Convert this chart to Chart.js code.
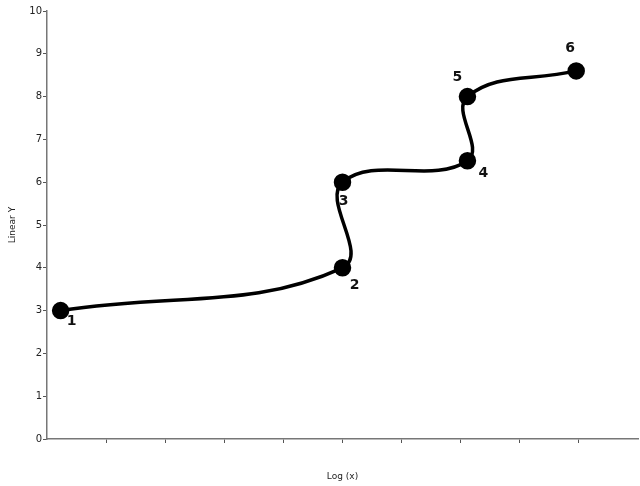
<!DOCTYPE html>
<html>
<head>
<meta charset="utf-8">
<script src="https://cdn.jsdelivr.net/npm/chart.js@4/dist/chart.umd.min.js"></script>
<style>
  html, body { margin: 0; padding: 0; background: #fff; }
  #wrap { width: 640px; height: 486px; }
</style>
</head>
<body>
<div id="wrap"><canvas id="chart"></canvas></div>
<script>
// 数据
const xValues = [1.7, 1e5, 1e5, 1.3e7, 1.3e7, 9e8]
const yValues = [3, 4, 6, 6.5, 8, 8.6]
const pointNames = ['1', '2', '3', '4', '5', '6']
const xTicks = [1e1, 1e2, 1e3, 1e4, 1e5, 1e6, 1e7, 1e8, 1e9]

// 标签偏移（像素）
const labelOffsets = [[11, 11], [12, 18], [1, 19], [16, 13], [-10, -19], [-6, -23]]

const pointLabelPlugin = {
  id: 'pointLabels',
  afterDatasetsDraw(chart) {
    const ctx = chart.ctx
    const meta = chart.getDatasetMeta(0)
    ctx.save()
    ctx.font = 'bold 14px "DejaVu Sans", sans-serif'
    ctx.fillStyle = '#111'
    ctx.textAlign = 'center'
    ctx.textBaseline = 'middle'
    meta.data.forEach((pt, i) => {
      const off = labelOffsets[i]
      ctx.fillText(pointNames[i], pt.x + off[0], pt.y + off[1])
    })
    ctx.restore()
  }
}

new Chart(document.getElementById('chart'), {
  type: 'scatter',
  data: {
    datasets: [{
      data: xValues.map((x, i) => ({ x: x, y: yValues[i] })),
      showLine: true,
      tension: 0.42,
      borderColor: '#000',
      borderWidth: 3.5,
      backgroundColor: '#000',
      pointRadius: 7,
      pointHoverRadius: 7
    }]
  },
  options: {
    responsive: true,
    maintainAspectRatio: false,
    animation: false,
    layout: { autoPadding: false, padding: { top: 11, right: 2, left: 0, bottom: 0 } },
    plugins: {
      legend: { display: false },
      tooltip: { enabled: false }
    },
    scales: {
      x: {
        type: 'logarithmic',
        min: 1,
        max: 1e10,
        afterBuildTicks(scale) {
          scale.ticks = xTicks.map(v => ({ value: v }))
        },
        afterFit(scale) { scale.height = 47 },
        ticks: { display: false },
        grid: { drawOnChartArea: false, tickLength: 4, color: '#555' },
        border: { color: '#777', width: 1.5 },
        title: {
          display: true,
          text: 'Log (x)',
          color: '#222',
          font: { size: 9, family: 'DejaVu Sans' },
          padding: { top: 0, bottom: 4 }
        }
      },
      y: {
        min: 0,
        max: 10,
        ticks: {
          stepSize: 1,
          color: '#222',
          font: { size: 10, family: 'DejaVu Sans' },
          padding: 1
        },
        afterFit(scale) { scale.width = 47 },
        grid: { drawOnChartArea: false, tickLength: 4, color: '#555' },
        border: { color: '#777', width: 1.5 },
        title: {
          display: true,
          text: 'Linear Y',
          color: '#222',
          font: { size: 9, family: 'DejaVu Sans' },
          padding: { top: 7, bottom: 0 }
        }
      }
    }
  },
  plugins: [pointLabelPlugin]
})
</script>
</body>
</html>
